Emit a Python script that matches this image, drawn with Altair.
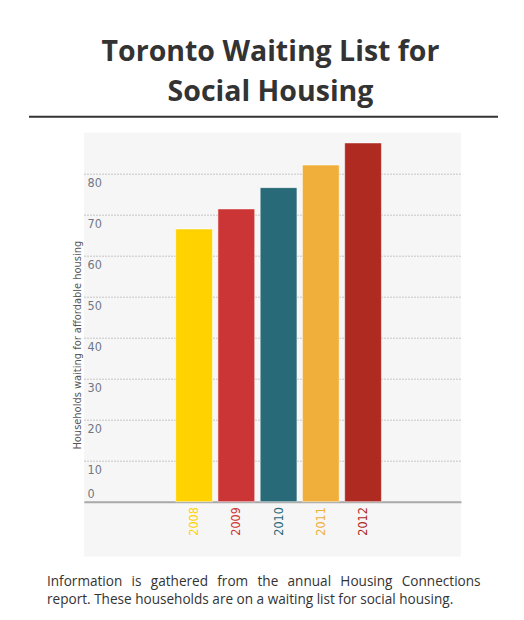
import altair as alt
import pandas as pd

# ---- data ----
years = ["2008", "2009", "2010", "2011", "2012"]
households = [66.5, 71.4, 76.6, 82.1, 87.5]
bar_colors = ["#FFD200", "#CC3535", "#286A78", "#F0AF3A", "#AF2B22"]
x_slots = [" ", "  "] + years + ["   "]
y_ticks = [0, 10, 20, 30, 40, 50, 60, 70, 80]
title_lines = ["Toronto Waiting List for", "Social Housing"]
y_title = "Households waiting for affordable housing"
gap = "\u00a0\u00a0\u2009"
caption_lines = [
    gap.join(["Information", "is", "gathered", "from", "the", "annual", "Housing", "Connections"]),
    "report. These households are on a waiting list for social housing.",
]

df = pd.DataFrame({"year": years, "value": households})
one = pd.DataFrame({"k": [0]})

W, H = 377, 424
narrow = "Liberation Sans Narrow, DejaVu Sans Condensed, Roboto Condensed, sans-serif"

color_cond = [{"test": f"datum.value == '{y}'", "value": c} for y, c in zip(years, bar_colors)]

bars = alt.Chart(df).mark_bar(stroke="#ffffff", strokeWidth=1, strokeOpacity=0.5).encode(
    x=alt.X(
        "year:N",
        scale=alt.Scale(domain=x_slots, paddingInner=0.13, paddingOuter=0.527, align=0.162),
        axis=alt.Axis(
            title=None, orient="bottom", offset=-55, labelAngle=270,
            labelAlign="right", labelBaseline="middle", labelPadding=5,
            ticks=False, tickSize=0, domainColor="#aaaaaa", domainWidth=2,
            labelFont=narrow, labelFontSize=12.5,
            labelColor={"condition": color_cond, "value": "#777777"},
            grid=False,
        ),
    ),
    y=alt.Y(
        "value:Q",
        scale=alt.Scale(domain=[-13.42, 90], nice=False, zero=False),
        axis=alt.Axis(
            values=y_ticks, title=y_title, domain=False, ticks=False, tickSize=0,
            labelAlign="left", labelPadding=-3, labelBaseline="middle",
            labelOffset={"condition": {"test": "datum.value == 0", "value": -8}, "value": 8.5},
            labelFont=narrow, labelFontSize=12.5, labelColor="#6e7685",
            grid=True, gridDash=[1, 2], gridColor="#999999", gridWidth=1,
            titleX=-7, titleY=212, titleAngle=270, titleAlign="center",
            titleBaseline="middle", titleFont=narrow, titleFontSize=11,
            titleFontWeight="normal", titleColor="#555555",
        ),
    ),
    color=alt.Color("year:N", scale=alt.Scale(domain=years, range=bar_colors), legend=None),
)

rule = alt.Chart(one).mark_rule(color="#333333", strokeWidth=2).encode(
    x=alt.value(-55), x2=alt.value(414), y=alt.value(-16)
)

caption = alt.Chart(one).mark_text(
    text=caption_lines, align="left", baseline="alphabetic", font="Open Sans",
    fontSize=13.6, color="#333333", lineHeight=18.6,
).encode(x=alt.value(-37), y=alt.value(453))

chart = alt.layer(bars, rule, caption).properties(
    width=W, height=H,
    title=alt.TitleParams(
        text=title_lines, font="Open Sans", fontSize=28.5, fontWeight="bold",
        color="#333333", anchor="middle", baseline="alphabetic",
        offset=-14, lineHeight=40.6, dx=-2,
    ),
    autosize=alt.AutoSizeParams(type="none"),
    padding={"left": 76, "top": 124.7, "right": 55, "bottom": 51},
    background="white",
).configure_view(fill="#f6f6f6", strokeWidth=0)

chart.save("out.html", embed_options={"renderer": "svg", "actions": False})
